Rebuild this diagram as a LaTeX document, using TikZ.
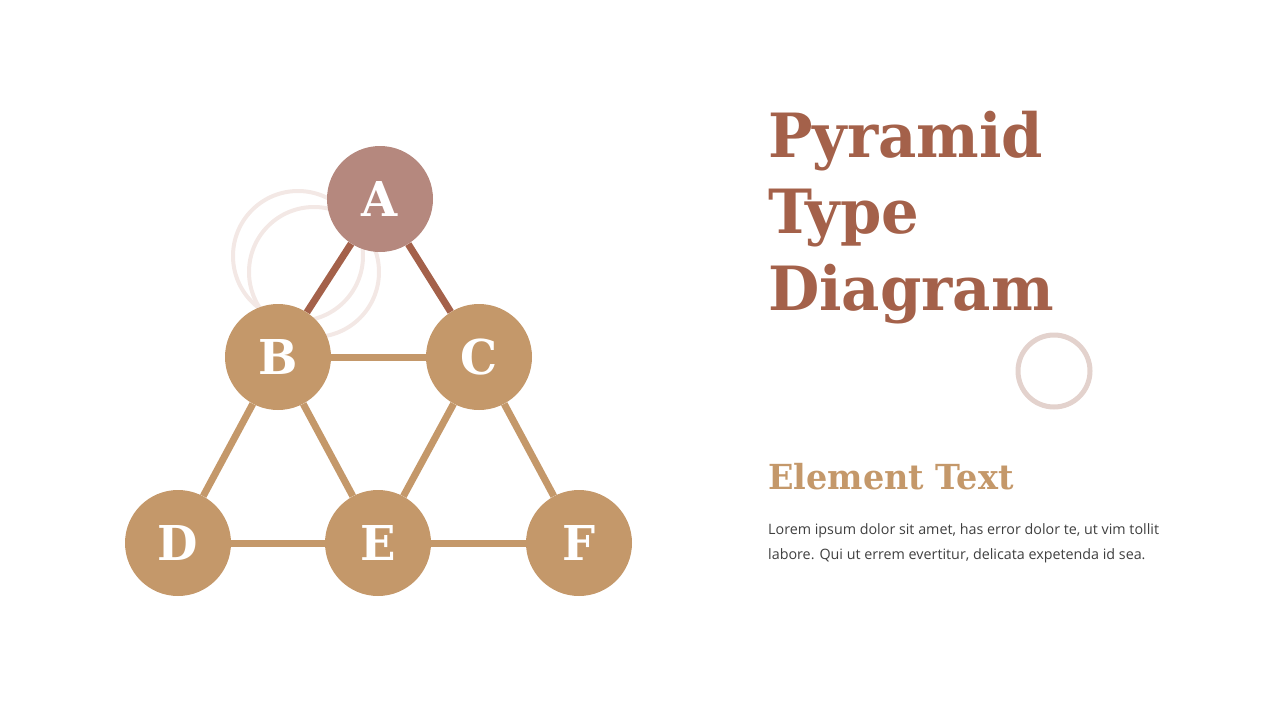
\documentclass[tikz,border=0pt]{standalone}
\usepackage{fontspec}
\setmainfont{Open Sans}
\newfontfamily\headfont{DejaVu Serif}[FakeStretch=0.97]
\usetikzlibrary{
  positioning,
  backgrounds
}
\definecolor{rust}{HTML}{A4614A}
\definecolor{tanbrown}{HTML}{C4986A}
\definecolor{rose}{HTML}{B5887E}
\definecolor{blush}{HTML}{F3E8E5}
\definecolor{ringgray}{HTML}{E3D2CD}
\definecolor{bodytext}{HTML}{3F3F3F}

\begin{document}
\begin{tikzpicture}[
    x=1pt,y=-1pt,
    letter/.style={
      circle,
      fill=tanbrown,
      minimum size=106pt,
      inner sep=0pt,
      text=white,
      font=\headfont\bfseries\fontsize{48}{48}\selectfont
    },
    link/.style={
      draw=tanbrown,
      line width=7pt
    },
    top link/.style={
      link,
      draw=rust
    },
    ring/.style={
      draw=blush,
      line width=4pt
    },
    heading/.style={
      anchor=base west,
      inner sep=0pt,
      text=rust,
      font=\headfont\bfseries\fontsize{61}{76}\selectfont
    },
    body/.style={
      anchor=base west,
      inner sep=0pt,
      text=bodytext,
      font=\fontsize{14.3}{25}\selectfont
    }
  ]
  \useasboundingbox (0,0) rectangle (1280,720);
  \newcommand{\rowA}{199}
  \newcommand{\rowB}{357}
  \newcommand{\rowC}{543}

  % Pyramid
  \node[letter, fill=rose] (A) at (380,\rowA) {A};
  \node[letter] (B) at (278,\rowB) {B};
  \node[letter] (C) at (479,\rowB) {C};
  \node[letter] (D) at (178,\rowC) {D};
  \node[letter] (E) at (378,\rowC) {E};
  \node[letter] (F) at (579,\rowC) {F};

  \begin{scope}[on background layer]
    \draw[ring] (298,256) circle (65pt);
    \draw[ring] (314,272) circle (65pt);
    \draw[top link] (A) -- (B);
    \draw[top link] (A) -- (C);
    \draw[link] (B) -- (C);
    \draw[link] (B) -- (D);
    \draw[link] (B) -- (E);
    \draw[link] (C) -- (E);
    \draw[link] (C) -- (F);
    \draw[link] (D) -- (E);
    \draw[link] (E) -- (F);
  \end{scope}

  % Title
  \node[heading] (title1) at (768,157) {Pyramid};
  \node[heading] (title2) at (768,233) {Type};
  \node[heading] (title3) at (768,310) {Diagram};
  \node[draw=ringgray, line width=5pt, circle, minimum size=72pt] (deco) at (1054,371) {};

  % Element
  \node[heading, text=tanbrown, font=\headfont\bfseries\fontsize{34.5}{34.5}\selectfont] (element) at (768,489) {Element Text};
  \node[body] (body1) at (768,534) {Lorem ipsum dolor sit amet, has error dolor te, ut vim tollit};
  \node[body] (body2) at (768,559) {labore. Qui ut errem evertitur, delicata expetenda id sea.};
\end{tikzpicture}
\end{document}
